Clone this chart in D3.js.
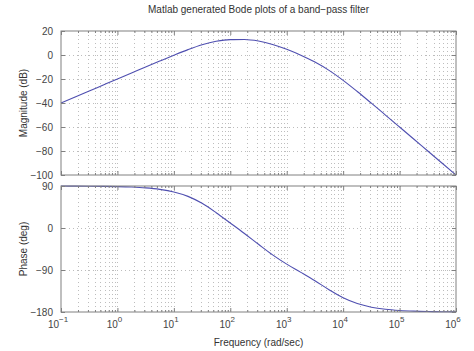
<!DOCTYPE html>
<html><head><meta charset="utf-8">
<script src="https://cdn.jsdelivr.net/npm/d3@7"></script>
<style>
body{margin:0;background:#fff}
svg{display:block}
text{font-family:"Liberation Sans",Arial,Helvetica,sans-serif}
</style>
</head><body>
<svg id="c" width="474" height="351"></svg>
<script>
// ---- data ----
const frequencies = [0.1, 0.178, 0.316, 0.562, 1, 1.78, 3.16, 5.62, 10, 17.8, 31.6, 56.2, 100, 178, 316, 562,
  1000, 1778, 3162, 5623, 1e4, 17783, 31623, 56234, 1e5, 177828, 316228, 562341, 1e6];
const magnitudeDb = [-40, -35, -30, -25, -20, -15.01, -10.02, -5.05, -0.17, 4.49, 8.55, 11.43, 12.81, 12.87, 11.6, 8.82,
  4.74, -0.19, -5.91, -12.81, -21.1, -30.38, -40.13, -50.05, -60.02, -70.01, -80.01, -90, -100];
const phaseDeg = [89.87, 89.77, 89.59, 89.27, 88.71, 87.7, 85.91, 82.75, 77.2, 67.76, 52.86, 32.82, 10.69, -11.69, -34.87, -57.6,
  -77.46, -95.1, -113.11, -132.27, -149.55, -161.97, -169.68, -174.16, -176.71, -178.14, -178.95, -179.41, -179.67];
const magTicks = [20, 0, -20, -40, -60, -80, -100];
const phaseTicks = [90, 0, -90, -180];
const freqTickExponents = [-1, 0, 1, 2, 3, 4, 5, 6];
const titleText = "Matlab generated Bode plots of a band\u2212pass filter";
const magLabel = "Magnitude (dB)";
const phaseLabel = "Phase (deg)";
const freqLabel = "Frequency  (rad/sec)";

// ---- layout ----
const left = 61, right = 456;
const svg = d3.select("#c");
const x = d3.scaleLog().domain([0.1, 1e6]).range([left, right]);
const majors = freqTickExponents.map(e => Math.pow(10, e));
const minors = [];
for (let e = -1; e < 6; e++) for (let m = 2; m <= 9; m++) minors.push(m * Math.pow(10, e));

const fmt = v => (v < 0 ? "\u2212" + Math.abs(v) : String(v));
const frameColor = "#808080", gridColor = "#bdbdbd", textColor = "#444", lineColor = "#4f4fb0";

function panel(top, bottom, domain, ticks, values, label) {
  const y = d3.scaleLinear().domain(domain).range([bottom, top]);
  const g = svg.append("g");
  // grid
  const grid = g.append("g").attr("stroke", gridColor).attr("stroke-width", 1).attr("stroke-dasharray", "1,3");
  grid.selectAll("line.v").data(majors.concat(minors).filter(f => x(f) > left + 0.5 && x(f) < right - 0.5))
    .join("line").attr("x1", d => Math.round(x(d)) + 0.5).attr("x2", d => Math.round(x(d)) + 0.5)
    .attr("y1", top).attr("y2", bottom);
  grid.selectAll("line.h").data(ticks.filter(t => y(t) > top + 0.5 && y(t) < bottom - 0.5))
    .join("line").attr("x1", left).attr("x2", right)
    .attr("y1", d => Math.round(y(d)) + 0.5).attr("y2", d => Math.round(y(d)) + 0.5);
  // curve
  const line = d3.line().x((d, i) => x(frequencies[i])).y(d => y(d)).curve(d3.curveMonotoneX);
  g.append("path").datum(values).attr("d", line).attr("fill", "none")
    .attr("stroke", lineColor).attr("stroke-width", 1.1);
  // axes
  const axL = d3.axisLeft(y).tickValues(ticks).tickSize(-4).tickPadding(8).tickFormat(fmt);
  const axR = d3.axisRight(y).tickValues(ticks).tickSize(-4).tickFormat("");
  const axB = d3.axisBottom(x).tickValues(majors).tickSize(-4).tickFormat("");
  const axT = d3.axisTop(x).tickValues(majors).tickSize(-4).tickFormat("");
  const axBm = d3.axisBottom(x).tickValues(minors).tickSize(-2).tickFormat("");
  const axTm = d3.axisTop(x).tickValues(minors).tickSize(-2).tickFormat("");
  const style = sel => {
    sel.select(".domain").remove();
    sel.selectAll(".tick line").attr("stroke", frameColor);
    sel.selectAll("text").attr("fill", textColor).style("font-size", "10px");
  };
  g.append("g").attr("transform", `translate(${left},0)`).call(axL).call(style);
  g.append("g").attr("transform", `translate(${right},0)`).call(axR).call(style);
  g.append("g").attr("transform", `translate(0,${bottom})`).call(axB).call(style);
  g.append("g").attr("transform", `translate(0,${top})`).call(axT).call(style);
  g.append("g").attr("transform", `translate(0,${bottom})`).call(axBm).call(style);
  g.append("g").attr("transform", `translate(0,${top})`).call(axTm).call(style);
  // frame
  g.append("rect").attr("x", left).attr("y", top).attr("width", right - left).attr("height", bottom - top)
    .attr("fill", "none").attr("stroke", frameColor).attr("stroke-width", 1);
  // y label
  g.append("text").attr("transform", `translate(27,${(top + bottom) / 2}) rotate(-90)`)
    .attr("text-anchor", "middle").attr("fill", "#333").style("font-size", "10px").text(label);
  return y;
}

panel(31, 175, [-100, 20], magTicks, magnitudeDb, magLabel);
panel(186, 312, [-180, 90], phaseTicks, phaseDeg, phaseLabel);

// x tick labels (10^n)
const xl = svg.append("g").attr("fill", textColor).style("font-size", "10px");
freqTickExponents.forEach(e => {
  const t = xl.append("text").attr("x", x(Math.pow(10, e)) - 3).attr("y", 328).attr("text-anchor", "middle");
  t.append("tspan").text("10");
  t.append("tspan").attr("dy", -6).style("font-size", "8px").text(fmt(e));
});

svg.append("text").attr("x", (left + right) / 2).attr("y", 346).attr("text-anchor", "middle")
  .attr("fill", "#333").style("font-size", "10px").text(freqLabel);
svg.append("text").attr("x", (left + right) / 2).attr("y", 13).attr("text-anchor", "middle")
  .attr("fill", "#333").style("font-size", "10px").text(titleText);
</script>
</body></html>
